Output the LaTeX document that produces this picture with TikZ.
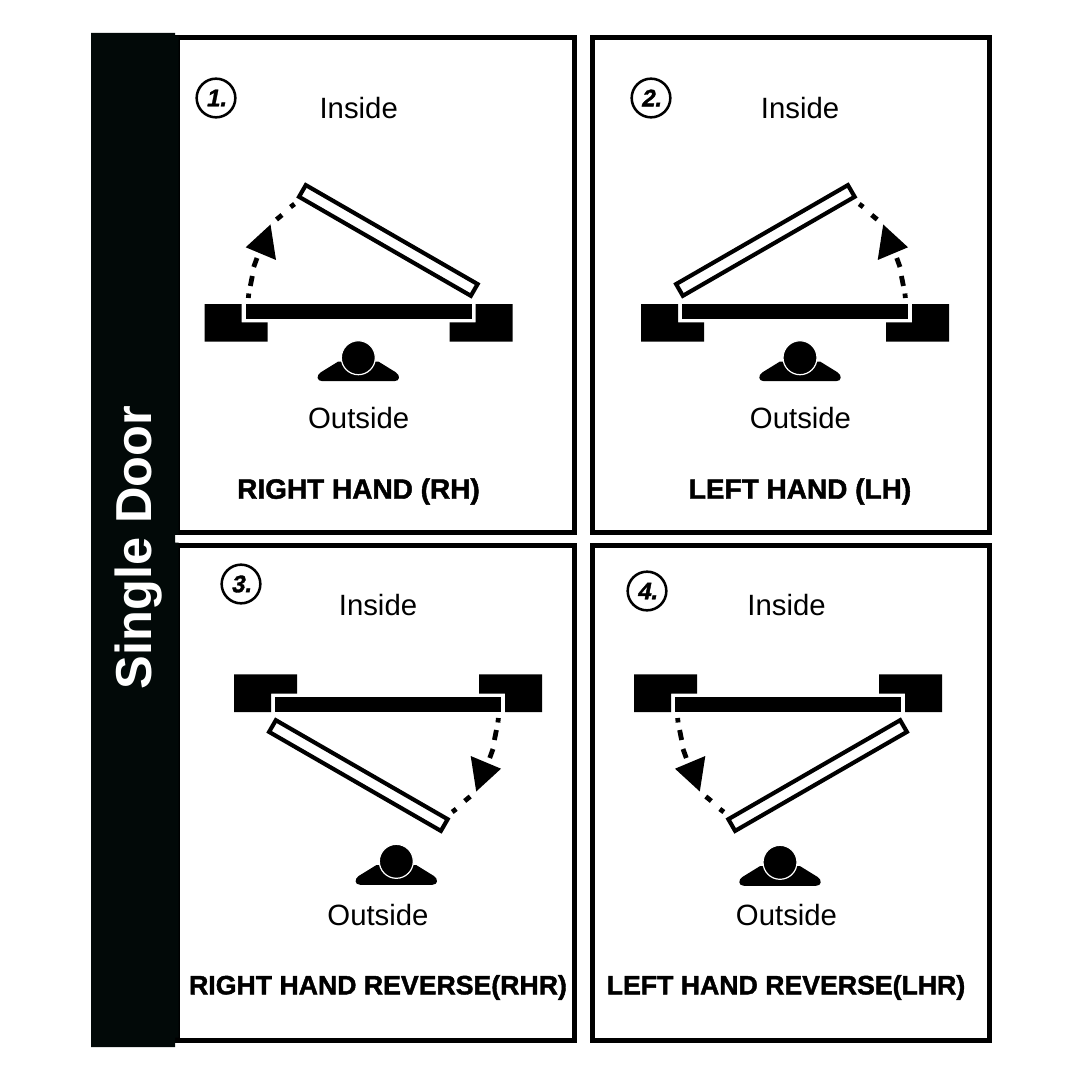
\documentclass[tikz,border=0pt]{standalone}
\usepackage{fontspec}
\setmainfont{Liberation Sans}
\newfontfamily\heavyfont[FakeBold=1.6]{Liberation Sans Bold}
\newfontfamily\badgefont[FakeBold=1.5,FakeSlant=0.2]{Liberation Sans Bold}
\definecolor{barblack}{HTML}{020908}
\tikzset{
 x=.75pt,y=-.75pt,
 frame/.style={draw=black,line width=3.75pt,fill=white},
 leaf/.style={draw=black,line width=3.1pt,fill=white,line join=miter},
 swing/.style={draw=black,line width=3.6pt},
 label/.style={font=\fontsize{22}{24}\selectfont,anchor=center,inner sep=0pt},
 title/.style={font=\fontsize{21}{24}\heavyfont,anchor=center,inner sep=0pt},
 title small/.style={font=\fontsize{20}{24}\heavyfont,anchor=center,inner sep=0pt},
 badge/.style={circle,draw=black,line width=1.9pt,minimum size=29pt,inner sep=0pt,font=\fontsize{18}{20}\badgefont},
}
\newcommand{\doorset}{%
 \fill[black] (204.7,304) -- (241.7,304) -- (241.7,322.3) -- (267.7,322.3) -- (267.7,341.7) -- (204.7,341.7) -- cycle;
 \fill[black] (512.7,304) -- (475.7,304) -- (475.7,322.3) -- (449.7,322.3) -- (449.7,341.7) -- (512.7,341.7) -- cycle;
 \fill[black] (246,304) rectangle (471.7,319);
 \draw[leaf] (305.8,185.1) -- (477.6,284.1) -- (470.85,295.8) -- (299.05,196.8) -- cycle;
 \fill[black] (270.5,224.5) -- (245.7,247.3) -- (276,260) -- cycle;
 \draw[swing] (248.3,298) -- (248.8,293.5);
 \draw[swing] (250.3,286) -- (252.3,276);
 \draw[swing] (253.7,267) -- (257,258);
 \draw[swing] (276.5,219.5) -- (282,215);
 \draw[swing] (290.5,207) -- (294.5,204);
}
\newcommand{\person}[2]{%
 \fill[black] (#1-20,#2+3.8) -- (#1-37.5,#2+14.6) .. controls (#1-42,#2+17.4) and (#1-42,#2+23.5) .. (#1-36,#2+23.5) -- (#1+36,#2+23.5) .. controls (#1+42,#2+23.5) and (#1+42,#2+17.4) .. (#1+37.5,#2+14.6) -- (#1+20,#2+3.8) -- cycle;
 \draw[white,line width=.9pt,fill=black] (#1,#2) circle[radius=17];
}
\begin{document}
\begin{tikzpicture}
\useasboundingbox (0,0) rectangle (1080,1080);
\fill[white] (0,0) rectangle (1080,1080);
\draw[frame] (177,38) rectangle (574.5,532);
\draw[frame] (592,38) rectangle (989,532);
\draw[frame] (177,545) rectangle (574.5,1040);
\draw[frame] (592,545) rectangle (989,1040);
\fill[barblack] (91,33) -- (175,33) -- (175,36) -- (178.5,36) -- (178.5,534.5) -- (175,534.5) -- (175,542.5) -- (178.5,542.5) -- (178.5,1037.5) -- (175,1037.5) -- (175,1047) -- (91,1047) -- cycle;
\node[font=\fontsize{37.9}{40}\selectfont\bfseries,text=white,rotate=90,inner sep=0pt] (side) at (138.5,547.5) {Single Door};
\begin{scope}
\doorset
\end{scope}
\begin{scope}[xscale=-1,xshift=-1153.7*.75pt]
\doorset
\end{scope}
\begin{scope}[xscale=-1,yscale=-1,xshift=-746.7*.75pt,yshift=1016*.75pt]
\doorset
\end{scope}
\begin{scope}[yscale=-1,xshift=429.3*.75pt,yshift=1016*.75pt]
\doorset
\end{scope}
\person{358.3}{357.7}
\person{800}{357.7}
\person{396.3}{861.3}
\person{780}{862.3}
\node[label] (in1) at (358.7,108.5) {Inside};
\node[label] (in2) at (800,108.5) {Inside};
\node[label] (in3) at (378,605.5) {Inside};
\node[label] (in4) at (786.5,605.5) {Inside};
\node[label] (out1) at (358.7,418.5) {Outside};
\node[label] (out2) at (800.5,418.5) {Outside};
\node[label] (out3) at (378,915.5) {Outside};
\node[label] (out4) at (786.5,915.5) {Outside};
\node[title] (t1) at (358.5,491.5) {RIGHT HAND (RH)};
\node[title] (t2) at (800,491.5) {LEFT HAND (LH)};
\node[title small] (t3) at (378,987.5) {RIGHT HAND REVERSE(RHR)};
\node[title small] (t4) at (786,987.5) {LEFT HAND REVERSE(LHR)};
\node[badge] (b1) at (216,98) {1.};
\node[badge] (b2) at (651,98) {2.};
\node[badge] (b3) at (241,584) {3.};
\node[badge] (b4) at (647,591) {4.};
\end{tikzpicture}
\end{document}
